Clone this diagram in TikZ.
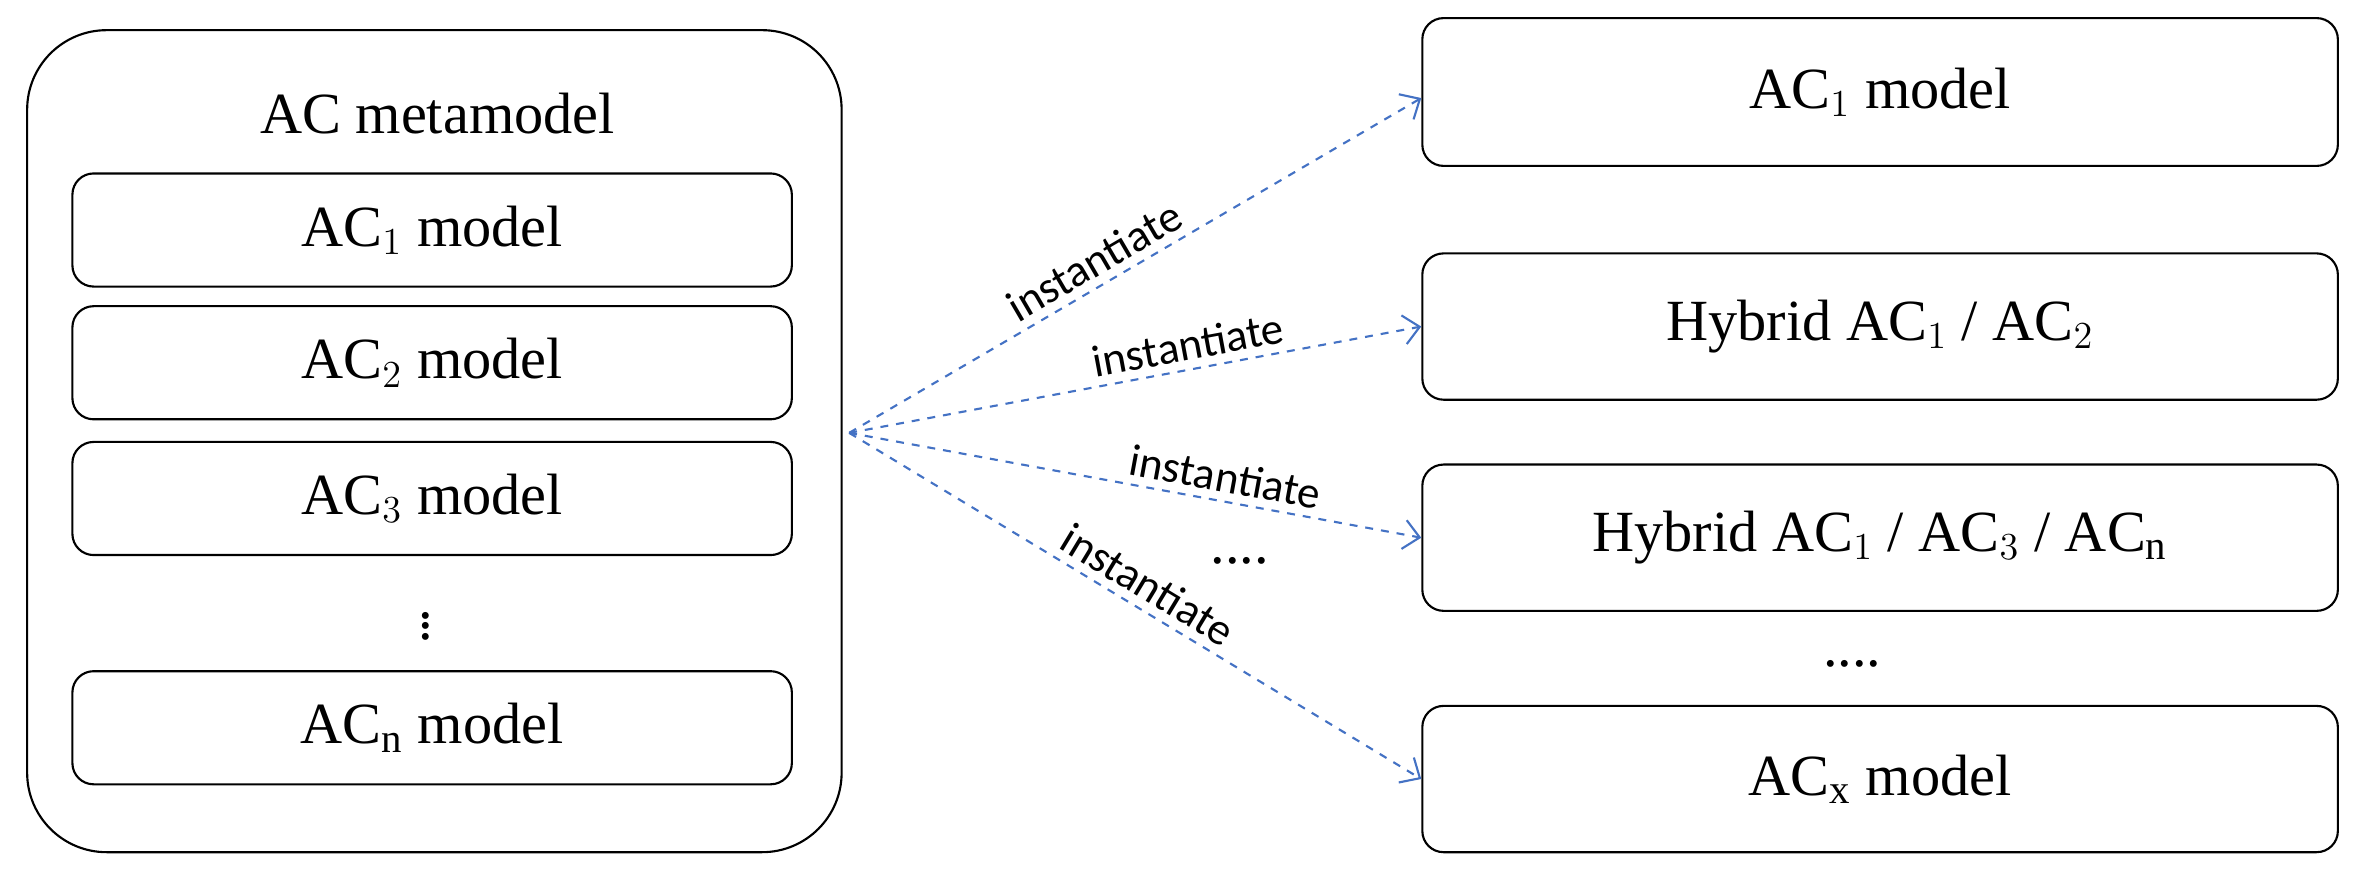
\documentclass[tikz,border=0pt]{standalone}
\usepackage{fontspec}
\setmainfont{Liberation Serif}
\newfontfamily\labfont{Carlito}
\usetikzlibrary{arrows.meta}
\begin{document}
\begin{tikzpicture}[x=0.02cm,y=-0.02cm]
\useasboundingbox (0,0) rectangle (1568,584);
\begin{scope}[every node/.style={draw,thick,rounded corners=8pt,font=\fontsize{22}{26}\selectfont}]
    \node[rounded corners=30pt,minimum width=540*0.02cm,minimum height=545*0.02cm] (meta) at (288,292.5) {};
    \node[draw=none] (title) at (290,75) {AC metamodel};
    \node[minimum width=477*0.02cm,minimum height=75*0.02cm] (m1) at (286.5,152.5) {AC$_1$ model};
    \node[minimum width=477*0.02cm,minimum height=75*0.02cm] (m2) at (286.5,240.5) {AC$_2$ model};
    \node[minimum width=477*0.02cm,minimum height=75*0.02cm] (m3) at (286.5,330.5) {AC$_3$ model};
    \node[draw=none] (vdots) at (282,410) {$\vdots$};
    \node[minimum width=477*0.02cm,minimum height=75*0.02cm] (mn) at (286.5,482.5) {AC$_\mathrm{n}$ model};
    \node[minimum width=607*0.02cm,minimum height=98*0.02cm] (r1) at (1246.5,61) {AC$_1$ model};
    \node[minimum width=607*0.02cm,minimum height=97*0.02cm] (r2) at (1246.5,216.5) {Hybrid AC$_1$ / AC$_2$};
    \node[minimum width=607*0.02cm,minimum height=97*0.02cm] (r3) at (1246.5,356.5) {Hybrid AC$_1$ / AC$_3$ / AC$_\mathrm{n}$};
    \node[draw=none] (rdots) at (1228,440) {....};
    \node[minimum width=607*0.02cm,minimum height=97*0.02cm] (rx) at (1246.5,516.5) {AC$_\mathrm{x}$ model};
\end{scope}
\coordinate (src) at (563,287);
\node[font=\fontsize{22}{26}\selectfont] (mdots) at (822,372) {....};

\begin{scope}[>={Straight Barb[length=6pt,width=11pt]},
              every node/.style={font=\labfont\fontsize{17}{20}\selectfont,sloped,above,inner sep=3pt},
              every edge/.style={draw={rgb,255:red,68;green,114;blue,196},thick,dashed}]
    \path [->] (src) edge node[pos=0.45] {instantiate} (r1.west |- 0,65);
    \path [->] (src) edge node[pos=0.6] {instantiate} (r2.west);
    \path [->] (src) edge node[pos=0.65] {instantiate} (r3.west);
    \path [->] (src) edge node[pos=0.5] {instantiate} (rx.west);
\end{scope}
\end{tikzpicture}
\end{document}
